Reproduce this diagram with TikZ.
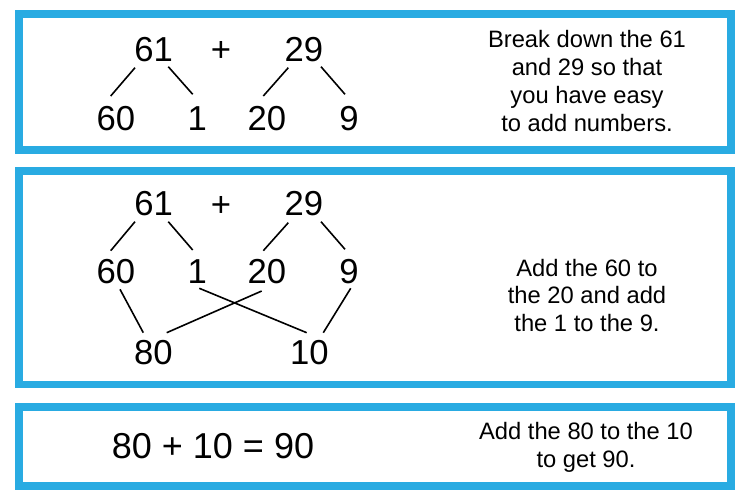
\documentclass[tikz,border=0pt]{standalone}
\usepackage{fontspec}
\setmainfont{Liberation Sans}
\definecolor{frameblue}{HTML}{29ABE2}
\begin{document}
\begin{tikzpicture}[x=0.75pt,y=-0.75pt,
  panel/.style={draw=frameblue,line width=5.8pt},
  num/.style={inner sep=0pt,anchor=base,font=\fontsize{26}{30}\selectfont},
  note/.style={inner sep=0pt,anchor=base,align=center,font=\fontsize{17.8}{20.8}\selectfont},
  link/.style={line width=1.2pt,black}]
\useasboundingbox (0,0) rectangle (750,500);
% panels
\draw[panel] (18.8,13.8) rectangle (731.2,150.2);
\draw[panel] (18.8,171.2) rectangle (731.2,384.5);
\draw[panel] (18.8,407.2) rectangle (731.2,486.2);
% panel 1
\node[num] (a61) at (153.7,61.7) {61};
\node[num,anchor=center] (aplus) at (221,51) {+};
\node[num] (a29) at (304,61.7) {29};
\node[num] (a60) at (116,130) {60};
\node[num] (a1) at (197.3,130) {1};
\node[num] (a20) at (267,130) {20};
\node[num] (a9) at (349,130) {9};
\draw[link] ([shift={(-18.7,6)}]a61.base) -- ([shift={(-5.3,-34)}]a60.base);
\draw[link] ([shift={(14.6,5)}]a61.base) -- ([shift={(-4.6,-35.7)}]a1.base);
\draw[link] ([shift={(-15.7,6)}]a29.base) -- ([shift={(-3.7,-34)}]a20.base);
\draw[link] ([shift={(17,5)}]a29.base) -- ([shift={(-4,-35.7)}]a9.base);
\node[note] (t1) at (587,131) {Break down the 61\\and 29 so that\\you have easy\\to add numbers.};
% panel 2
\node[num] (b61) at (153.7,215) {61};
\node[num,anchor=center] (bplus) at (221,206) {+};
\node[num] (b29) at (304,215) {29};
\node[num] (b60) at (116,283.3) {60};
\node[num] (b1) at (197.3,283.3) {1};
\node[num] (b20) at (267,283.3) {20};
\node[num] (b9) at (349,283.3) {9};
\node[num] (b80) at (153.3,364) {80};
\node[num] (b10) at (309.3,364) {10};
\draw[link] ([shift={(-18.7,6.7)}]b61.base) -- ([shift={(-5.3,-32.6)}]b60.base);
\draw[link] ([shift={(14.6,6.7)}]b61.base) -- ([shift={(-4.6,-33.3)}]b1.base);
\draw[link] ([shift={(-15.7,7.7)}]b29.base) -- ([shift={(-3.7,-32.6)}]b20.base);
\draw[link] ([shift={(17,6.7)}]b29.base) -- ([shift={(-4,-34)}]b9.base);
\draw[link] ([shift={(4,6)}]b60.base) -- ([shift={(-10,-31.3)}]b80.base);
\draw[link] ([shift={(2,5)}]b1.base) -- ([shift={(-2.6,-31.3)}]b10.base);
\draw[link] ([shift={(-5.3,7.7)}]b20.base) -- ([shift={(13.4,-31.3)}]b80.base);
\draw[link] ([shift={(1.7,5)}]b9.base) -- ([shift={(14,-31.3)}]b10.base);
\node[note] (t2) at (587,331.7) {Add the 60 to\\the 20 and add\\the 1 to the 9.};
% panel 3
\node[num,font=\fontsize{27}{30}\selectfont] (sum) at (213,458.5) {80 + 10 = 90};
\node[note] (t3) at (586,467.3) {Add the 80 to the 10\\to get 90.};
\end{tikzpicture}
\end{document}
